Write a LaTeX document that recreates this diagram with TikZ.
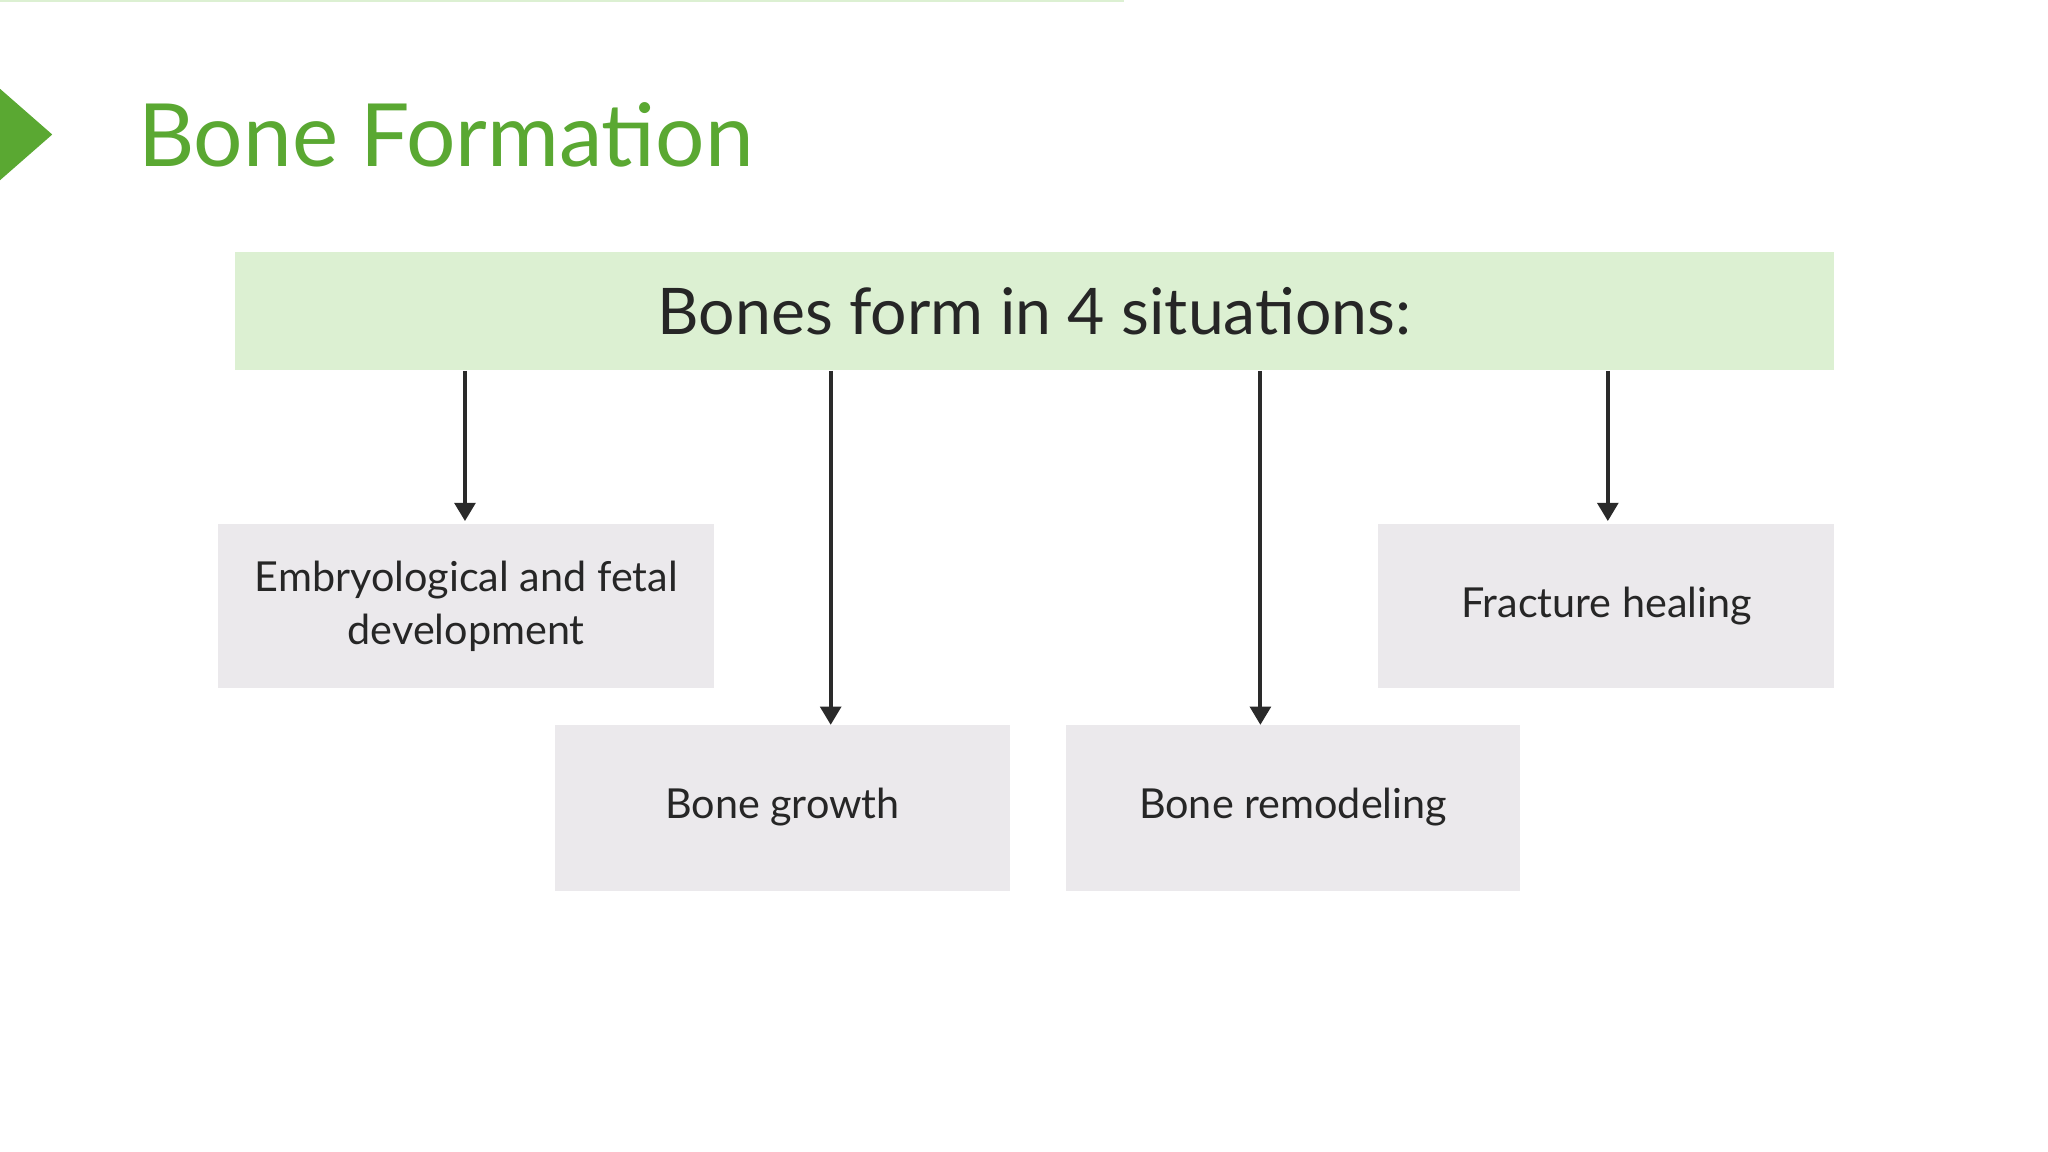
\documentclass[tikz,border=0pt]{standalone}
\usepackage{fontspec}
\setmainfont{Lato}
\usetikzlibrary{arrows.meta}
\definecolor{gr}{HTML}{5AA832}
\definecolor{lgr}{HTML}{DCF0D2}
\definecolor{bx}{HTML}{EBE9EC}
\definecolor{ar}{HTML}{2A2A2A}
\tikzset{
 sub/.style={fill=bx,draw=none,font=\fontsize{9}{11}\selectfont,text=black!85,align=center,minimum width=#1},
 conn/.style={draw=ar,line width=0.9pt,-{Triangle[length=4pt,width=4.5pt]}}
}
\begin{document}
\begin{tikzpicture}[x=0.01cm,y=-0.01cm]
\useasboundingbox[fill=white] (0,0) rectangle (1568,882);
\fill[gr] (0,68) -- (40,103) -- (0,138) -- cycle;
\node[anchor=west,text=gr,font=\fontsize{19}{22}\selectfont,inner sep=0] (title) at (105,103) {Bone Formation};
\node[fill=lgr,minimum width=1224\pgflinewidth,inner sep=0] at (0,0) {};
\path[fill=lgr] (180,193) rectangle (1404,283);
\node[font=\fontsize{14}{16}\selectfont,text=black!85] (top) at (792,238) {Bones form in 4 situations:};
\coordinate (t1) at (356,284);
\coordinate (t2) at (636,284);
\coordinate (t3) at (965,284);
\coordinate (t4) at (1231,284);
\path[fill=bx] (167,401) rectangle (547,527);
\node[font=\fontsize{9}{11.5}\selectfont,text=black!85,align=center] (e) at (357,464) {Embryological and fetal\\development};
\path[fill=bx] (1055,401) rectangle (1404,527);
\node[font=\fontsize{9}{11}\selectfont,text=black!85] (f) at (1230,464) {Fracture healing};
\path[fill=bx] (425,555) rectangle (773,682);
\node[font=\fontsize{9}{11}\selectfont,text=black!85] (g) at (599,618) {Bone growth};
\path[fill=bx] (816,555) rectangle (1164,682);
\node[font=\fontsize{9}{11}\selectfont,text=black!85] (r) at (990,618) {Bone remodeling};
\coordinate (b1) at (356,399);
\coordinate (b2) at (636,555);
\coordinate (b3) at (965,555);
\coordinate (b4) at (1231,399);
\draw[conn] (t1) -- (b1);
\draw[conn] (t2) -- (b2);
\draw[conn] (t3) -- (b3);
\draw[conn] (t4) -- (b4);
\end{tikzpicture}
\end{document}
